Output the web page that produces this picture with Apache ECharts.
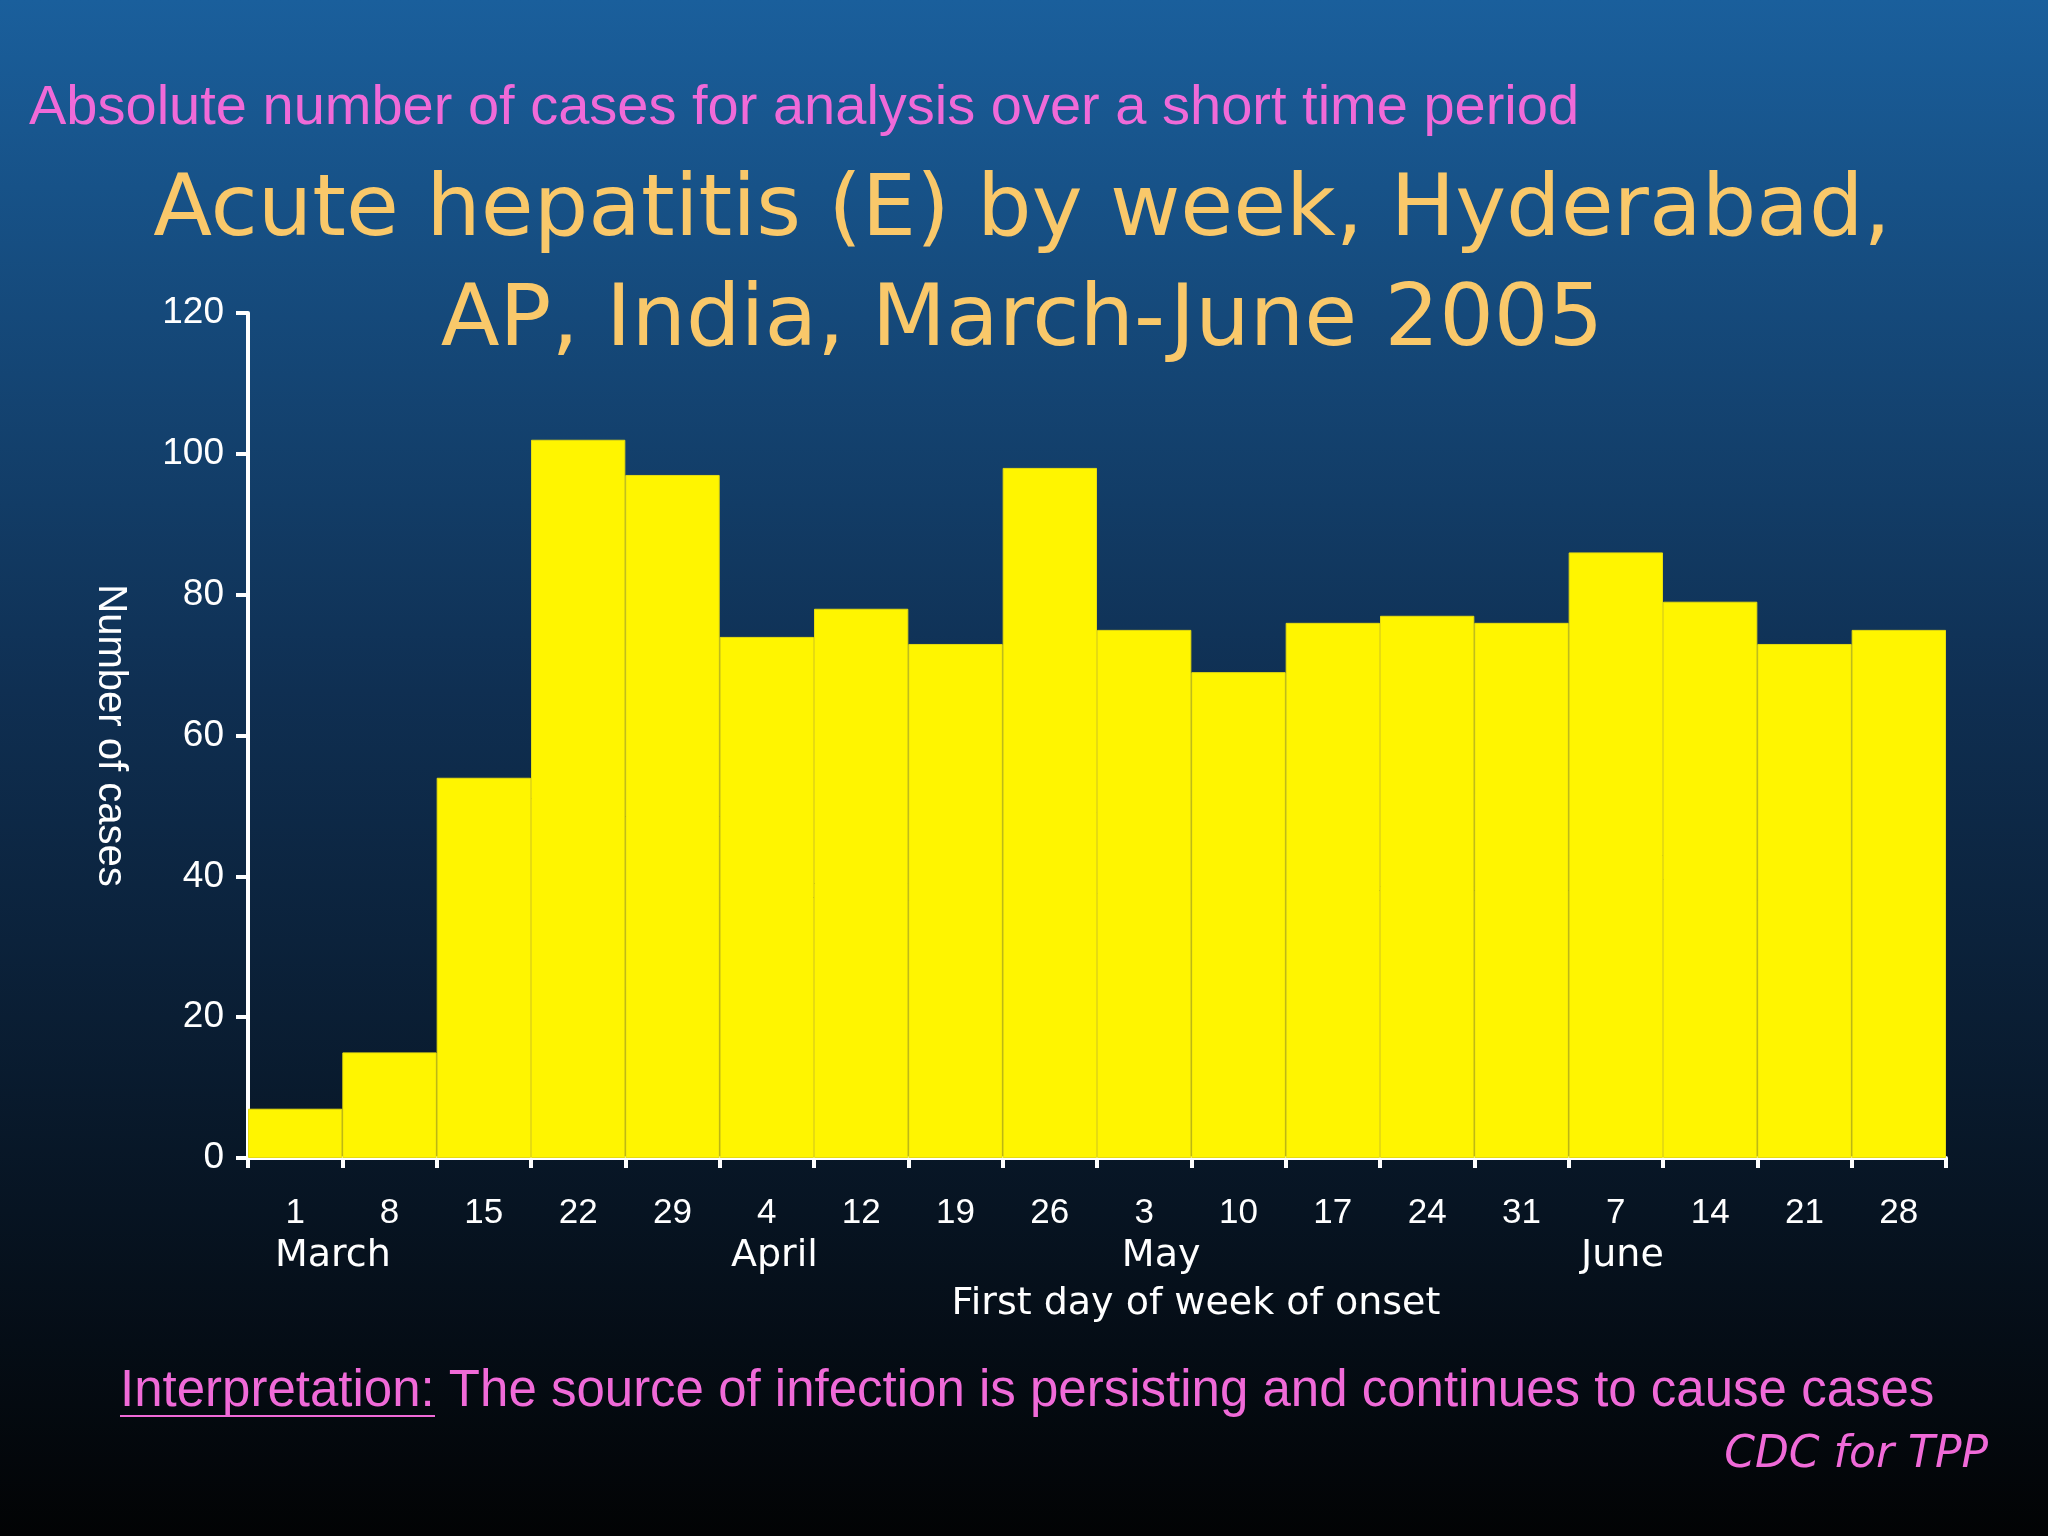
<!DOCTYPE html>
<html>
<head>
<meta charset="utf-8">
<style>html,body{margin:0;padding:0;}#c{width:2048px;height:1536px;}</style>
<script src="https://cdn.jsdelivr.net/npm/echarts@6/dist/echarts.min.js"></script>
</head>
<body>
<div id="c"></div>
<script>
var weeks = ['1','8','15','22','29','4','12','19','26','3','10','17','24','31','7','14','21','28'];
var cases = [7,15,54,102,97,74,78,73,98,75,69,76,77,76,86,79,73,75];
var months = [['March',0,0.4],['April',5,0.08],['May',9,0.18],['June',14,0.07]];
var yTicks = [0,20,40,60,80,100,120];

var chart = echarts.init(document.getElementById('c'));
var option = {
  backgroundColor: new echarts.graphic.LinearGradient(0,0,0,1,[
    {offset:0,color:'#1a5f9c'},{offset:0.45,color:'#0f2f52'},{offset:1,color:'#020304'}
  ]),
  title: [
    {text:'Absolute number of cases for analysis over a short time period', left:24, top:76,
     textStyle:{color:'#f06ad8',fontSize:56,fontWeight:'normal',fontFamily:'Liberation Sans'}}
  ],
  grid:{left:248,right:102,top:313,bottom:378},
  xAxis:{
    type:'category', data:weeks,
    axisLine:{lineStyle:{color:'#fff',width:4}},
    axisTick:{show:true,length:10,lineStyle:{color:'#fff',width:4}},
    axisLabel:{color:'#fff',fontSize:35,margin:38,fontFamily:'Liberation Sans'}
  },
  yAxis:{
    type:'value', min:0, max:120, interval:20,
    name:'Number of cases', nameLocation:'middle', nameGap:118, nameRotate:-90,
    nameTextStyle:{color:'#fff',fontSize:40,fontFamily:'Liberation Sans'},
    axisLine:{show:true,lineStyle:{color:'#fff',width:4}},
    axisTick:{show:true,length:12,lineStyle:{color:'#fff',width:4}},
    splitLine:{show:false},
    axisLabel:{color:'#fff',fontSize:37,margin:24,fontFamily:'Liberation Sans',
      formatter:function(v){return yTicks.indexOf(v)>=0?String(v):'';}}
  },
  series:[{
    type:'bar', data:cases, barCategoryGap:'0%',
    itemStyle:{color:'#fff500',borderColor:'#e6dc10',borderWidth:1}
  }]
};
chart.setOption(option);

var els = months.map(function(m){
  var x1 = chart.convertToPixel({xAxisIndex:0}, weeks[m[1]]);
  var xn = chart.convertToPixel({xAxisIndex:0}, weeks[m[1]+1]);
  return {type:'text', x:x1+(xn-x1)*m[2], y:1256, style:{text:m[0],fill:'#fff',font:'38px "DejaVu Sans"',align:'center',verticalAlign:'middle'}};
});
els.push({type:'text', x:1196, y:1304, style:{text:'First day of week of onset',fill:'#fff',font:'38px "DejaVu Sans"',align:'center',verticalAlign:'middle'}});
els.push({type:'text', x:1022, y:268, style:{text:'Acute hepatitis (E) by week, Hyderabad,\nAP, India, March-June 2005',
  fill:'#f9c86a',font:'86px "DejaVu Sans"',lineHeight:110,align:'center',verticalAlign:'middle'}});
els.push({type:'text', x:120, y:1392, style:{
  rich:{u:{fill:'#f06ad8',font:'51px "Liberation Sans"'},t:{fill:'#f06ad8',font:'51px "Liberation Sans"'}},
  text:'{u|Interpretation:}{t| The source of infection is persisting and continues to cause cases}', verticalAlign:'middle'}});
els.push({type:'line', shape:{x1:120,y1:1416,x2:435,y2:1416}, style:{stroke:'#f06ad8',lineWidth:2}});
els.push({type:'text', x:1988, y:1456, style:{text:'CDC for TPP',fill:'#f06ad8',font:'italic 44px "DejaVu Sans"',align:'right',verticalAlign:'middle'}});
chart.setOption({graphic:els});
</script>
</body>
</html>
